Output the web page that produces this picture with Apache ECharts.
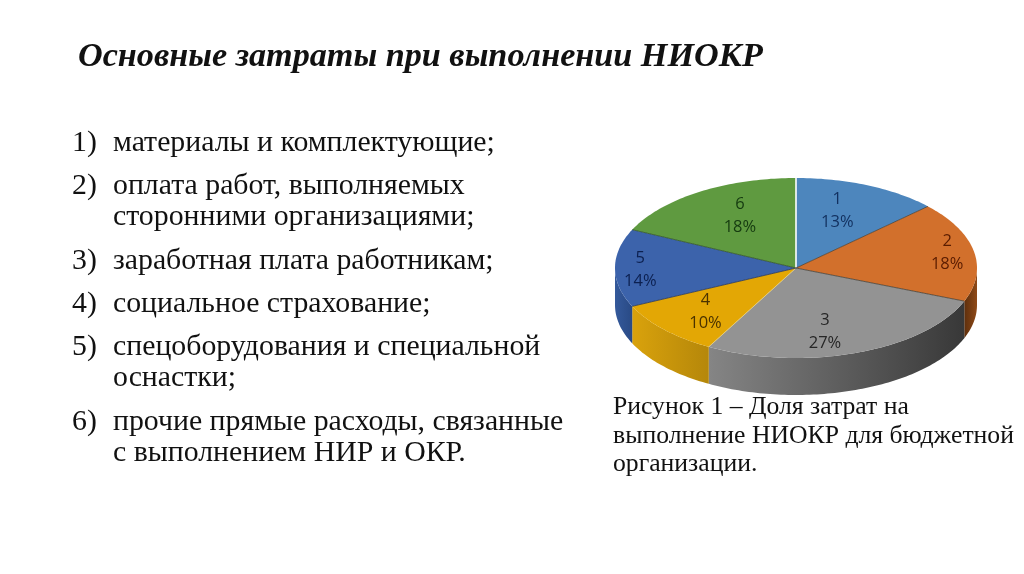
<!DOCTYPE html>
<html><head><meta charset="utf-8">
<style>html,body{margin:0;padding:0;background:#fff}#c{width:1024px;height:574px}</style>
<script src="https://cdn.jsdelivr.net/npm/echarts@6/dist/echarts.min.js"></script>
</head><body><div id="c"></div>
<script>
const categories = ['1','2','3','4','5','6'];
const shares = [13,18,27,10,14,18];
const titleText = 'Основные затраты при выполнении НИОКР';
const listNumbers = ['1)','2)','','3)','4)','5)','','6)',''];
const listLines = ['материалы и комплектующие;','оплата работ, выполняемых','сторонними организациями;','заработная плата работникам;','социальное страхование;','спецоборудования и специальной','оснастки;','прочие прямые расходы, связанные','с выполнением НИР и ОКР.'];
const captionLines = ['Рисунок 1 – Доля затрат на','выполнение НИОКР для бюджетной','организации.'];

const topColors = ['#4d86bd','#d2702c','#939393','#e3a705','#3c63ab','#5f9a40'];
const wallColors = [['#3a6490','#3a6490'],['#8f4a18','#5e2f0c'],['#858585','#383838'],['#d9a20c','#b5870a'],['#34599b','#294a85'],['#46742f','#46742f']];
const edgeColors = ['#ffffff','#4a3a2a','#3f3a30','#e6d28a','#27324a','#2a4a2a'];
const labelColors = ['#12305f','#5a1c00','#262626','#4a3200','#0c2050','#153a10'];
const labelPos = [[.228,.64],[.835,.17],[.16,-.71],[-.50,-.49],[-.86,-.02],[-.31,.575]];
const CX=796, CY=268, RX=181, RY=90, DEPTH=37;
const rowY=[144,187,218,262,305,348,379,423,454];
const capY=[408,437,465];

const total = shares.reduce((a,b)=>a+b,0);
const P=(a,dy)=>[CX+RX*Math.sin(a),CY-RY*Math.cos(a)+(dy||0)];
function arc(a,b,dy){const pts=[];const n=Math.max(2,Math.ceil(Math.abs(b-a)/0.02));for(let i=0;i<=n;i++)pts.push(P(a+(b-a)*i/n,dy));return pts;}
let starts=[];shares.reduce((s,v,i)=>{starts[i]=s;return s+v;},0);

function renderItem(params,api){
  const i=params.dataIndex, v=api.value(0);
  const a=starts[i]/total*2*Math.PI, b=a+v/total*2*Math.PI;
  const kids=[];
  const lo=Math.max(a,Math.PI/2), hi=Math.min(b,Math.PI*1.5);
  if(hi>lo){
    const up=arc(lo,hi,0), low=arc(lo,hi,DEPTH).reverse();
    const xs=up.map(p=>p[0]);const x0=Math.min(...xs),x1=Math.max(...xs);
    const c=wallColors[i];
    kids.push({type:'polygon',shape:{points:up.concat(low)},style:{fill:{type:'linear',x:x0,y:0,x2:x1,y2:0,global:true,colorStops:[{offset:0,color:c[i===2||i===3||i===4?0:1]},{offset:1,color:c[i===2||i===3||i===4?1:0]}]}}});
  }
  kids.push({type:'polygon',shape:{points:[[CX,CY]].concat(arc(a,b,0))},style:{fill:topColors[i]}});
  return {type:'group',children:kids};
}
function renderEdges(params,api){
  const i=params.dataIndex;
  const a=starts[i]/total*2*Math.PI,p=P(a);
  return {type:'line',shape:{x1:CX,y1:CY,x2:p[0],y2:p[1]},style:{stroke:edgeColors[i],lineWidth:i===0?1.6:1,opacity:i===0?1:.75}};
}
function renderLabels(params,api){
  const i=params.dataIndex;
  const x=CX+labelPos[i][0]*RX,y=CY-labelPos[i][1]*RY;
  return {type:'text',style:{x:x,y:y,text:categories[i]+'\n'+api.value(0)+'%',fill:labelColors[i],font:'16.5px "Open Sans"',lineHeight:23,align:'center',verticalAlign:'middle'}};
}
const data=shares.map(v=>[v]);
const serif='"Liberation Serif"';
const gfx=[];
listLines.forEach((t,i)=>{
  gfx.push({type:'text',left:113,top:rowY[i]-16,style:{text:t,font:'29.8px '+serif,fill:'#111'}});
  if(listNumbers[i])gfx.push({type:'text',left:72,top:rowY[i]-16,style:{text:listNumbers[i],font:'29.8px '+serif,fill:'#111'}});
});
captionLines.forEach((t,i)=>gfx.push({type:'text',left:613,top:capY[i]-14,style:{text:t,font:'25.7px '+serif,fill:'#111'}}));

const chart=echarts.init(document.getElementById('c'),null,{renderer:'canvas'});
chart.setOption({
  animation:false,backgroundColor:'#fff',
  title:{text:titleText,left:78,top:40,padding:0,textStyle:{fontFamily:'Liberation Serif',fontStyle:'italic',fontWeight:'bold',fontSize:34.2,color:'#111'}},
  graphic:gfx,
  series:[
    {type:'custom',coordinateSystem:'none',renderItem:renderItem,data:data,silent:true},
    {type:'custom',coordinateSystem:'none',renderItem:renderEdges,data:data,silent:true,z:3},
    {type:'custom',coordinateSystem:'none',renderItem:renderLabels,data:data,silent:true,z:4}
  ]
});
</script></body></html>
